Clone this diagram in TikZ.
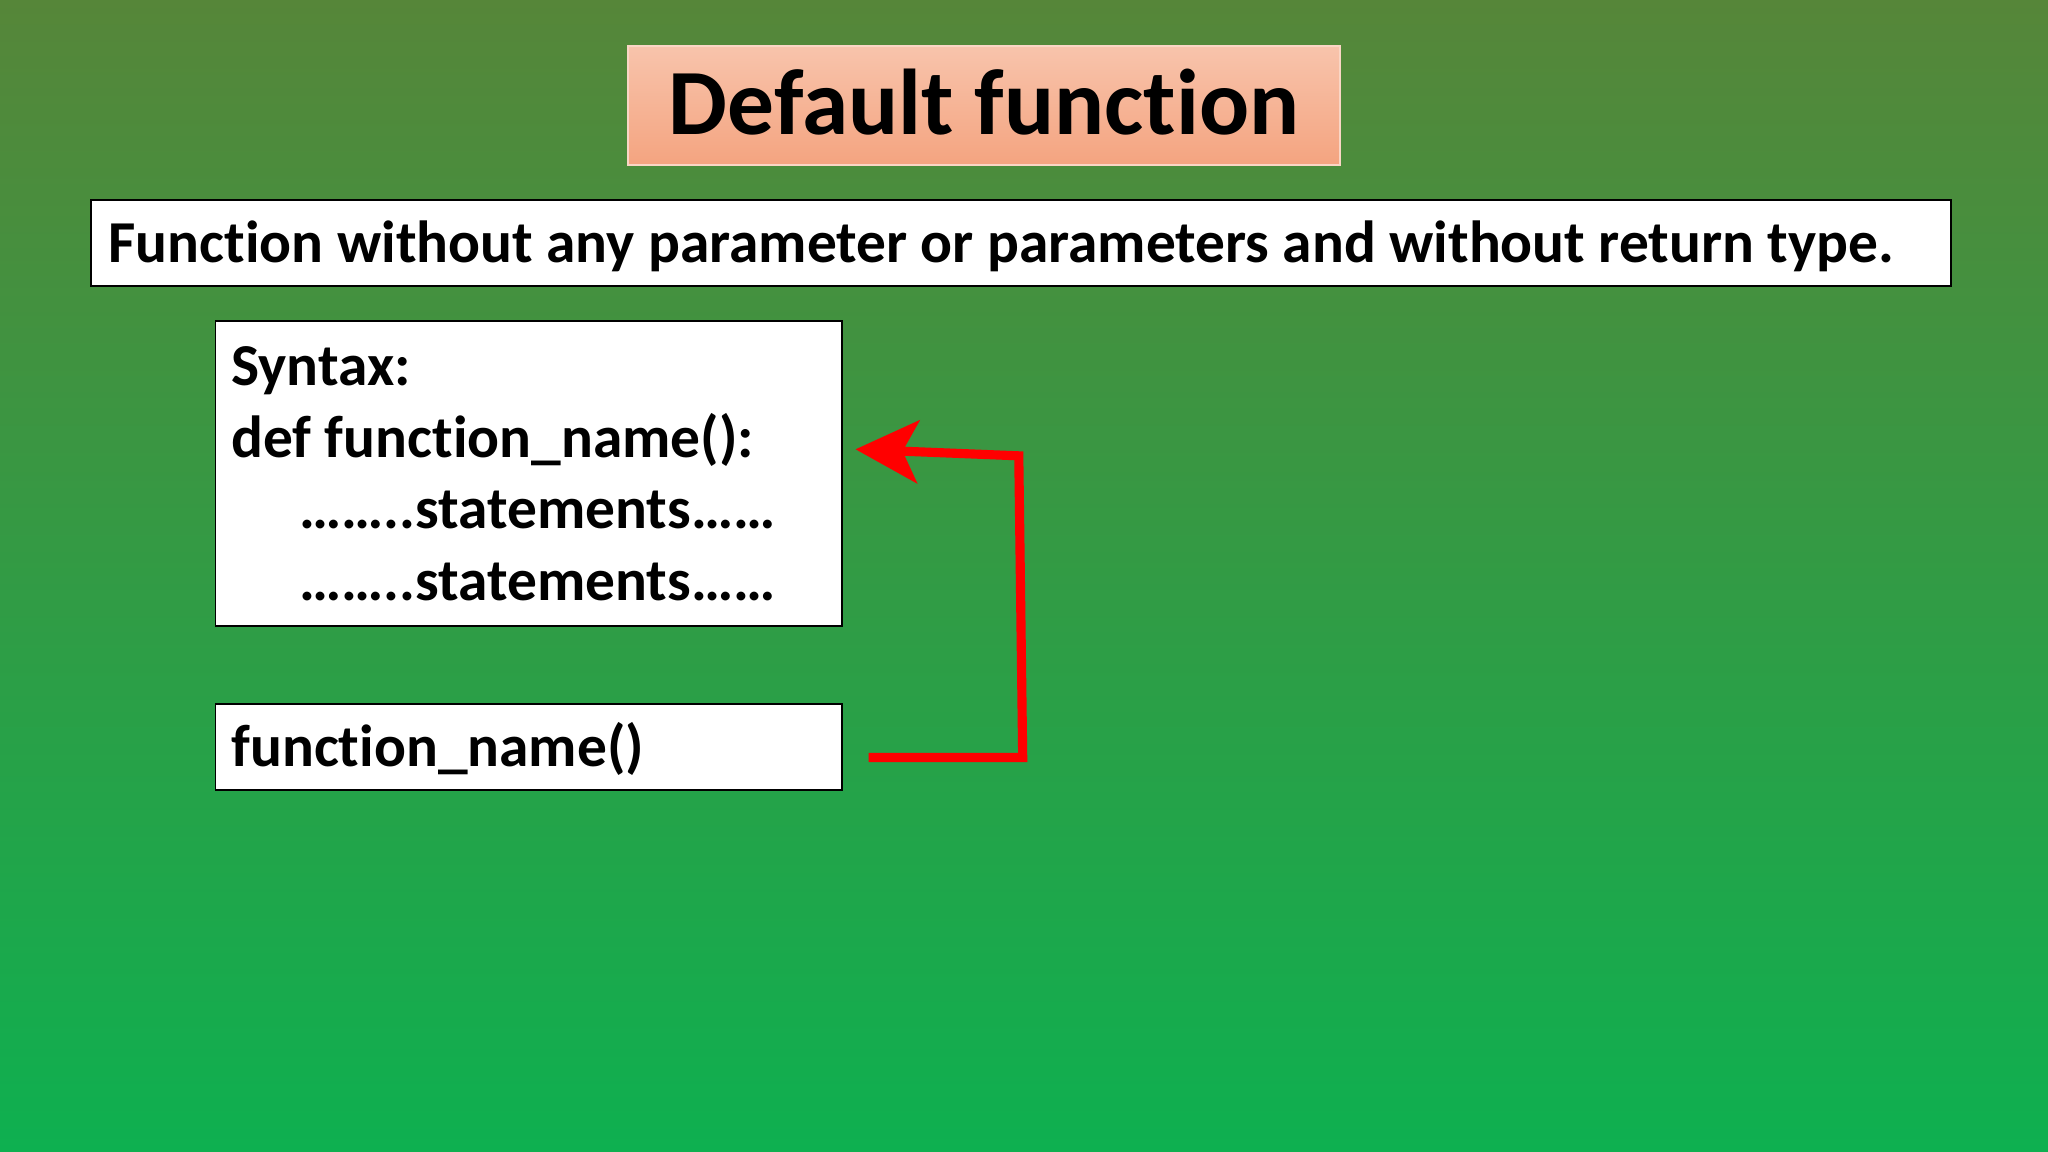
\documentclass[tikz,border=0pt]{standalone}
\usepackage{fontspec}
\setmainfont[Ligatures=NoCommon]{Carlito}
\usetikzlibrary{arrows.meta}
\definecolor{bgtop}{RGB}{86,134,57}
\definecolor{bgbot}{RGB}{14,176,80}
\definecolor{ttop}{RGB}{248,196,172}
\definecolor{tbot}{RGB}{244,164,128}
\tikzset{
  wbox/.style={draw=black,line width=1.5pt,fill=white},
  txt/.style={anchor=base west,inner sep=0pt,font=\bfseries\fontsize{45.5}{54}\selectfont},
  redarrow/.style={draw=red,line width=7pt,-{Stealth[length=48pt,width=48pt,inset=12pt]}}
}
\begin{document}
\begin{tikzpicture}[x=1pt,y=-1pt]
\shade[top color=bgtop,bottom color=bgbot] (0,0) rectangle (1568,882);
\useasboundingbox (0,0) rectangle (1568,882);
\shade[top color=ttop,bottom color=tbot,draw=ttop!70!white,line width=1.5pt] (481,35) rectangle (1026,126);
\node[font=\bfseries\fontsize{71.5}{80}\selectfont,inner sep=0pt] (title) at (753.5,78) {Default function};
\draw[wbox] (70,153) rectangle (1494,219);
\node[txt] (desc) at (83,201) {Function without any parameter or parameters and without return type.};
\draw[wbox] (165,246) rectangle (645,479);
\node[txt] (s1) at (177,295) {Syntax:};
\node[txt] (s2) at (177,350) {def function\_name():};
\node[txt] (s3) at (229,405) {……..statements……};
\node[txt] (s4) at (229,460) {……..statements……};
\draw[wbox] (165,539) rectangle (645,605);
\node[txt] (call) at (177,587) {function\_name()};
\coordinate (a0) at (665,580);
\coordinate (a1) at (783,580);
\coordinate (a2) at (780,349);
\coordinate (a3) at (655,344);
\draw[redarrow,line join=miter] (a0) -- (a1) -- (a2) -- (a3);
\end{tikzpicture}
\end{document}
